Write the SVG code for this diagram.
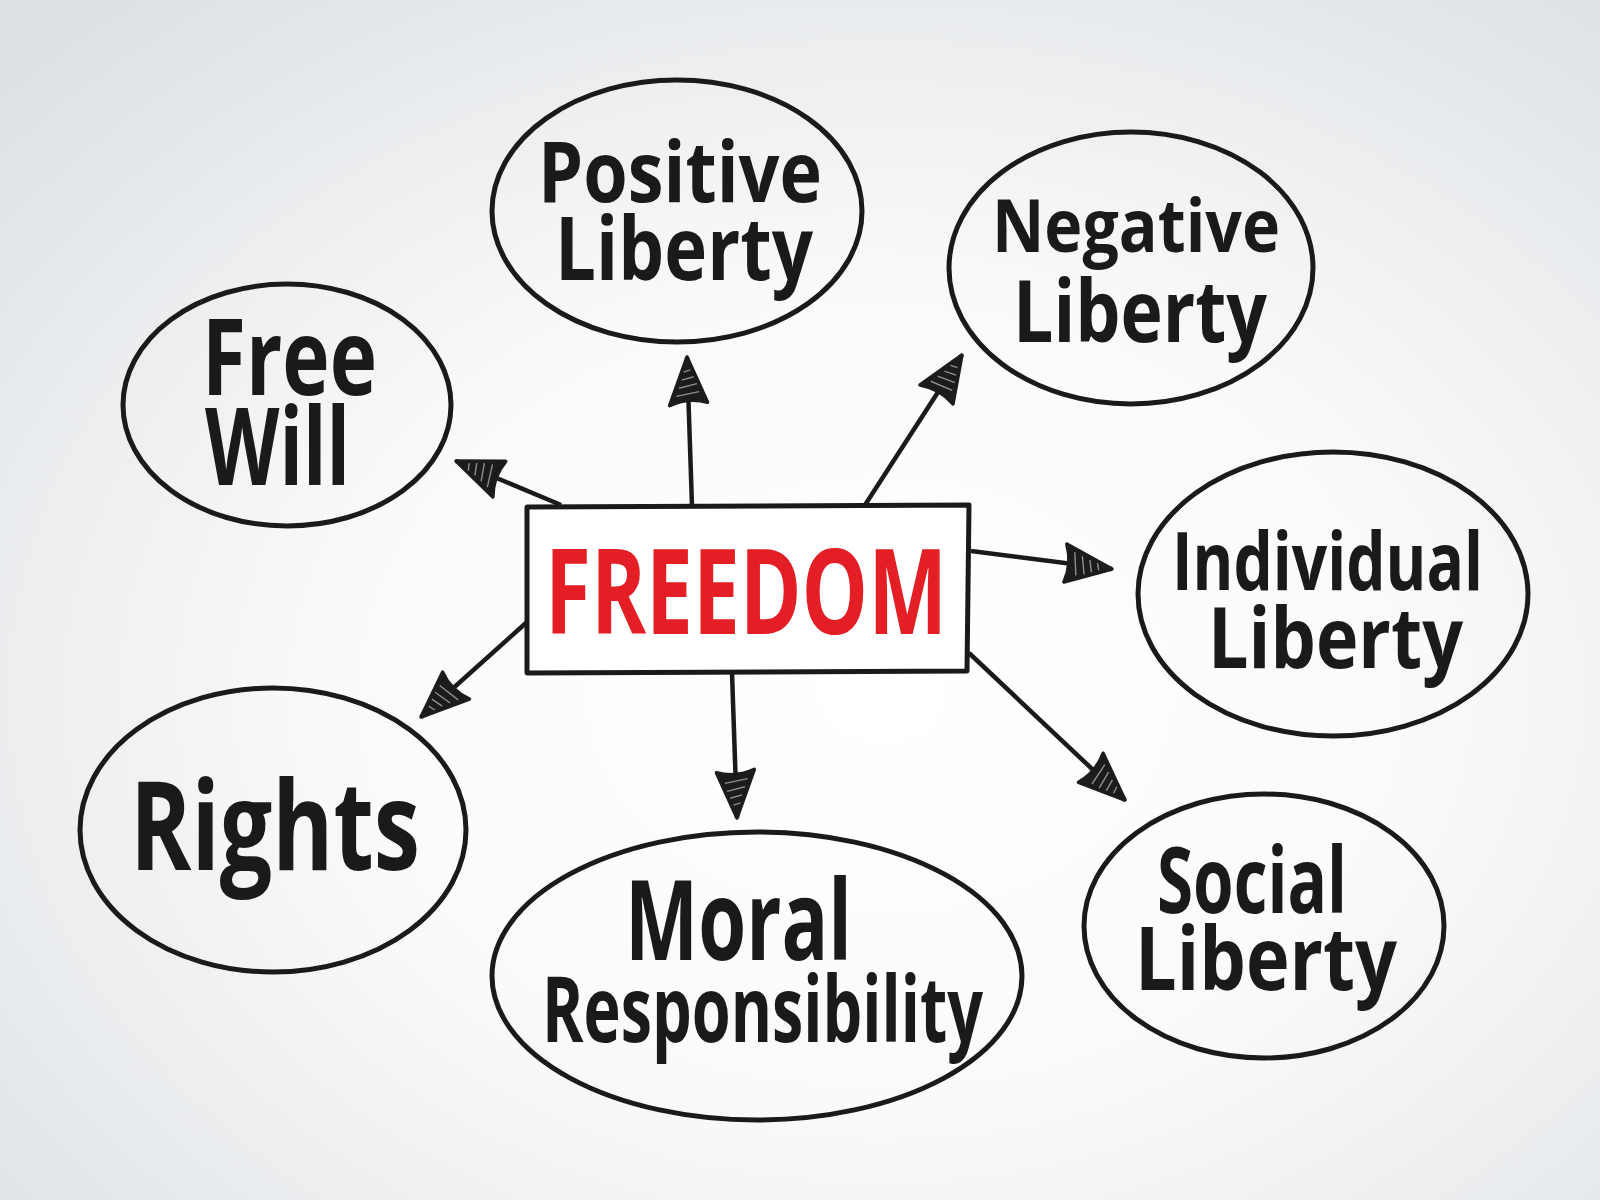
<svg xmlns="http://www.w3.org/2000/svg" width="1600" height="1200" viewBox="0 0 1600 1200">
<defs>
<radialGradient id="bg" cx="55%" cy="58%" r="75%">
<stop offset="0" stop-color="#ffffff"/>
<stop offset="0.45" stop-color="#fafafa"/>
<stop offset="1" stop-color="#dde1e5"/>
</radialGradient>
<marker id="arrow" markerUnits="userSpaceOnUse" markerWidth="54" markerHeight="46" viewBox="0 0 54 46" refX="51" refY="23" orient="auto">
<path d="M3,4 L51,23 L5,42 Q11,23 3,4 Z" fill="#1c1c1c" stroke="#1c1c1c" stroke-width="3.5" stroke-linejoin="round"/>
<path d="M12,11 L16,34 M20,14 L24,32 M28,17 L31,29 M36,19 L38,26" stroke="#ffffff" stroke-width="1.4" opacity="0.5" fill="none"/>
</marker>
<style>
.node{fill:none;stroke:#1a1a1a;stroke-width:5;}
.lbl{font-family:"Open Sans","Liberation Sans",sans-serif;font-weight:700;fill:#1a1a1a;}
.edge{stroke:#1a1a1a;stroke-width:4.5;fill:none;marker-end:url(#arrow);}
</style>
</defs>
<rect x="0" y="0" width="1600" height="1200" fill="url(#bg)"/>

<g id="connectors">
<path class="edge" d="M561,505 L456,461"/>
<path class="edge" d="M692,506 L687,357"/>
<path class="edge" d="M865,505 L962,355"/>
<path class="edge" d="M971,551 L1112,569"/>
<path class="edge" d="M969,653 L1125,800"/>
<path class="edge" d="M732,673 L737,818"/>
<path class="edge" d="M527,622 L421,717"/>
</g>

<g id="freedom">
<path d="M527,507 L969,505 L967,671 L527,673 Z" fill="#ffffff" stroke="#1a1a1a" stroke-width="5" stroke-linejoin="round"/>
<text x="545" y="634" font-size="118" textLength="402" lengthAdjust="spacingAndGlyphs" style="font-family:'Open Sans','Liberation Sans',sans-serif;font-weight:700;fill:#e31e24;">FREEDOM</text>
</g>

<g id="positive-liberty">
<ellipse class="node" cx="677" cy="211" rx="185" ry="131"/>
<text class="lbl" x="538" y="202" font-size="84" textLength="284" lengthAdjust="spacingAndGlyphs">Positive</text>
<text class="lbl" x="555" y="280" font-size="88" textLength="258" lengthAdjust="spacingAndGlyphs">Liberty</text>
</g>

<g id="negative-liberty">
<ellipse class="node" cx="1131" cy="268" rx="182" ry="136"/>
<text class="lbl" x="992" y="252" font-size="74" textLength="288" lengthAdjust="spacingAndGlyphs">Negative</text>
<text class="lbl" x="1013" y="342" font-size="86" textLength="254" lengthAdjust="spacingAndGlyphs">Liberty</text>
</g>

<g id="free-will">
<ellipse class="node" cx="287" cy="405" rx="164" ry="121"/>
<text class="lbl" x="202" y="395" font-size="105" textLength="175" lengthAdjust="spacingAndGlyphs">Free</text>
<text class="lbl" x="205" y="485" font-size="108" textLength="145" lengthAdjust="spacingAndGlyphs">Will</text>
</g>

<g id="individual-liberty">
<ellipse class="node" cx="1333" cy="594" rx="195" ry="142"/>
<text class="lbl" x="1172" y="590" font-size="80" textLength="311" lengthAdjust="spacingAndGlyphs">Individual</text>
<text class="lbl" x="1208" y="668" font-size="85" textLength="255" lengthAdjust="spacingAndGlyphs">Liberty</text>
</g>

<g id="rights">
<ellipse class="node" cx="273" cy="830" rx="193" ry="142"/>
<text class="lbl" x="130" y="870" font-size="123" textLength="290" lengthAdjust="spacingAndGlyphs">Rights</text>
</g>

<g id="moral-responsibility">
<ellipse class="node" cx="757" cy="976" rx="265" ry="144"/>
<text class="lbl" x="625" y="960" font-size="112" textLength="227" lengthAdjust="spacingAndGlyphs">Moral</text>
<text class="lbl" x="542" y="1042" font-size="91" textLength="441" lengthAdjust="spacingAndGlyphs">Responsibility</text>
</g>

<g id="social-liberty">
<ellipse class="node" cx="1264" cy="926" rx="180" ry="132"/>
<text class="lbl" x="1157" y="913" font-size="91" textLength="190" lengthAdjust="spacingAndGlyphs">Social</text>
<text class="lbl" x="1135" y="990" font-size="88" textLength="262" lengthAdjust="spacingAndGlyphs">Liberty</text>
</g>
</svg>
